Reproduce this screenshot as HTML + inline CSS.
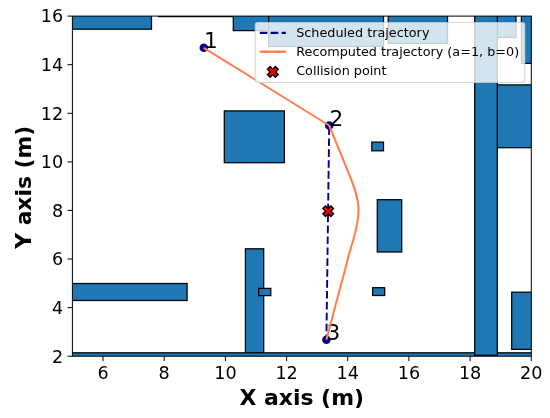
<!DOCTYPE html>
<html><head><meta charset="utf-8"><title>Trajectory plot</title>
<style>
html,body{margin:0;padding:0;background:#fff;}
body{width:550px;height:418px;overflow:hidden;}
svg{display:block;}
text{font-family:"DejaVu Sans","Liberation Sans",sans-serif;fill:#000;}
.tk{font-size:17.6px;}
.lg{font-size:12.8px;fill:#000;}
.ax{font-size:21px;font-weight:bold;}
.pt{font-size:21.6px;}
</style></head><body>
<svg width="550" height="418" viewBox="0 0 550 418">
<rect width="550" height="418" fill="#fff"/>
<defs><clipPath id="c"><rect x="72.4" y="16.1" width="458.9" height="340.1"/></clipPath></defs>
<g clip-path="url(#c)">
<g fill="#1f77b4" stroke="#000" stroke-width="1.25">
<rect x="60.0" y="0.0" width="91.5" height="29.2"/>
<rect x="158.5" y="12.0" width="74.8" height="4.6"/>
<rect x="233.3" y="0.0" width="35.4" height="30.6"/>
<rect x="268.7" y="0.0" width="114.8" height="46.5"/>
<rect x="388.2" y="0.0" width="59.3" height="43.4"/>
<rect x="497.2" y="0.0" width="18.8" height="37.5"/>
<rect x="521.4" y="0.0" width="23.6" height="63.4"/>
<rect x="497.2" y="84.9" width="47.8" height="62.8"/>
<rect x="224.3" y="110.9" width="60.1" height="51.8"/>
<rect x="371.8" y="142.1" width="11.7" height="8.7"/>
<rect x="377.3" y="199.7" width="24.4" height="52.3"/>
<rect x="60.0" y="283.5" width="127.1" height="17.0"/>
<rect x="245.4" y="248.8" width="18.3" height="121.2"/>
<rect x="258.7" y="288.4" width="12.1" height="7.2"/>
<rect x="372.6" y="287.7" width="12.1" height="7.8"/>
<rect x="60.0" y="352.8" width="485.0" height="17.2"/>
<rect x="474.7" y="0.0" width="22.6" height="355.3"/>
<rect x="511.7" y="292.2" width="33.3" height="57.2"/>
</g>
<path d="M329.2 125.5 L326.4 339.7" fill="none" stroke="#00008b" stroke-width="1.9" stroke-dasharray="7.6 3.3" stroke-dashoffset="-2"/>
<circle cx="203.8" cy="47.8" r="4.25" fill="#00008b"/>
<circle cx="329.2" cy="125.5" r="4.25" fill="#00008b"/>
<circle cx="326.4" cy="339.7" r="4.25" fill="#00008b"/>
<text class="pt" x="204.0" y="47.8">1</text>
<text class="pt" x="329.4" y="125.5">2</text>
<text class="pt" x="326.5" y="339.8">3</text>
<path d="M203.8 47.8 L329.2 125.5 L347.4 170 C352 181 358.5 196 358.5 210.5 C358.5 224 354 238 350.2 250 L326.4 339.7" fill="none" stroke="#ff7f50" stroke-width="2.05" stroke-linejoin="round"/>
</g>
<path d="M325.55 205.90 L328.20 208.55 L330.85 205.90 L333.50 208.55 L330.85 211.20 L333.50 213.85 L330.85 216.50 L328.20 213.85 L325.55 216.50 L322.90 213.85 L325.55 211.20 L322.90 208.55 Z" fill="#ff0000" stroke="#000" stroke-width="1.4" stroke-linejoin="miter"/>
<rect x="72.4" y="16.1" width="458.9" height="340.1" fill="none" stroke="#000" stroke-width="1"/>
<path d="M103.0 356.2 v4.9" stroke="#000" stroke-width="1"/>
<text class="tk" x="103.0" y="379.2" text-anchor="middle">6</text>
<path d="M164.2 356.2 v4.9" stroke="#000" stroke-width="1"/>
<text class="tk" x="164.2" y="379.2" text-anchor="middle">8</text>
<path d="M225.4 356.2 v4.9" stroke="#000" stroke-width="1"/>
<text class="tk" x="225.4" y="379.2" text-anchor="middle">10</text>
<path d="M286.6 356.2 v4.9" stroke="#000" stroke-width="1"/>
<text class="tk" x="286.6" y="379.2" text-anchor="middle">12</text>
<path d="M347.7 356.2 v4.9" stroke="#000" stroke-width="1"/>
<text class="tk" x="347.7" y="379.2" text-anchor="middle">14</text>
<path d="M408.9 356.2 v4.9" stroke="#000" stroke-width="1"/>
<text class="tk" x="408.9" y="379.2" text-anchor="middle">16</text>
<path d="M470.1 356.2 v4.9" stroke="#000" stroke-width="1"/>
<text class="tk" x="470.1" y="379.2" text-anchor="middle">18</text>
<path d="M531.3 356.2 v4.9" stroke="#000" stroke-width="1"/>
<text class="tk" x="531.3" y="379.2" text-anchor="middle">20</text>
<path d="M72.4 356.2 h-4.9" stroke="#000" stroke-width="1"/>
<text class="tk" x="63.1" y="362.5" text-anchor="end">2</text>
<path d="M72.4 307.6 h-4.9" stroke="#000" stroke-width="1"/>
<text class="tk" x="63.1" y="313.9" text-anchor="end">4</text>
<path d="M72.4 259.0 h-4.9" stroke="#000" stroke-width="1"/>
<text class="tk" x="63.1" y="265.3" text-anchor="end">6</text>
<path d="M72.4 210.4 h-4.9" stroke="#000" stroke-width="1"/>
<text class="tk" x="63.1" y="216.7" text-anchor="end">8</text>
<path d="M72.4 161.9 h-4.9" stroke="#000" stroke-width="1"/>
<text class="tk" x="63.1" y="168.2" text-anchor="end">10</text>
<path d="M72.4 113.3 h-4.9" stroke="#000" stroke-width="1"/>
<text class="tk" x="63.1" y="119.6" text-anchor="end">12</text>
<path d="M72.4 64.7 h-4.9" stroke="#000" stroke-width="1"/>
<text class="tk" x="63.1" y="71.0" text-anchor="end">14</text>
<path d="M72.4 16.1 h-4.9" stroke="#000" stroke-width="1"/>
<text class="tk" x="63.1" y="22.4" text-anchor="end">16</text>
<text class="ax" transform="translate(301.7 404.6) scale(1.045 1)" text-anchor="middle">X axis (m)</text>
<text class="ax" transform="translate(31 187.3) rotate(-90) scale(1.04 1)" text-anchor="middle">Y axis (m)</text>
<rect x="255.2" y="22.5" width="269.6" height="60" rx="2.6" ry="2.6" fill="#fff" fill-opacity="0.8" stroke="#ccc" stroke-opacity="0.8" stroke-width="1.1"/>
<path d="M259.8 32.9 H285.8" stroke="#00008b" stroke-width="2.4" stroke-dasharray="7.6 3.3"/>
<path d="M259.8 51.7 H285.8" stroke="#ff7f50" stroke-width="2.4"/>
<path d="M270.15 66.60 L272.80 69.25 L275.45 66.60 L278.10 69.25 L275.45 71.90 L278.10 74.55 L275.45 77.20 L272.80 74.55 L270.15 77.20 L267.50 74.55 L270.15 71.90 L267.50 69.25 Z" fill="#ff0000" stroke="#000" stroke-width="1.4"/>
<text class="lg" x="296.2" y="37.2">Scheduled trajectory</text>
<text class="lg" x="296.2" y="55.9">Recomputed trajectory (a=1, b=0)</text>
<text class="lg" x="296.2" y="74.7">Collision point</text>
</svg></body></html>
